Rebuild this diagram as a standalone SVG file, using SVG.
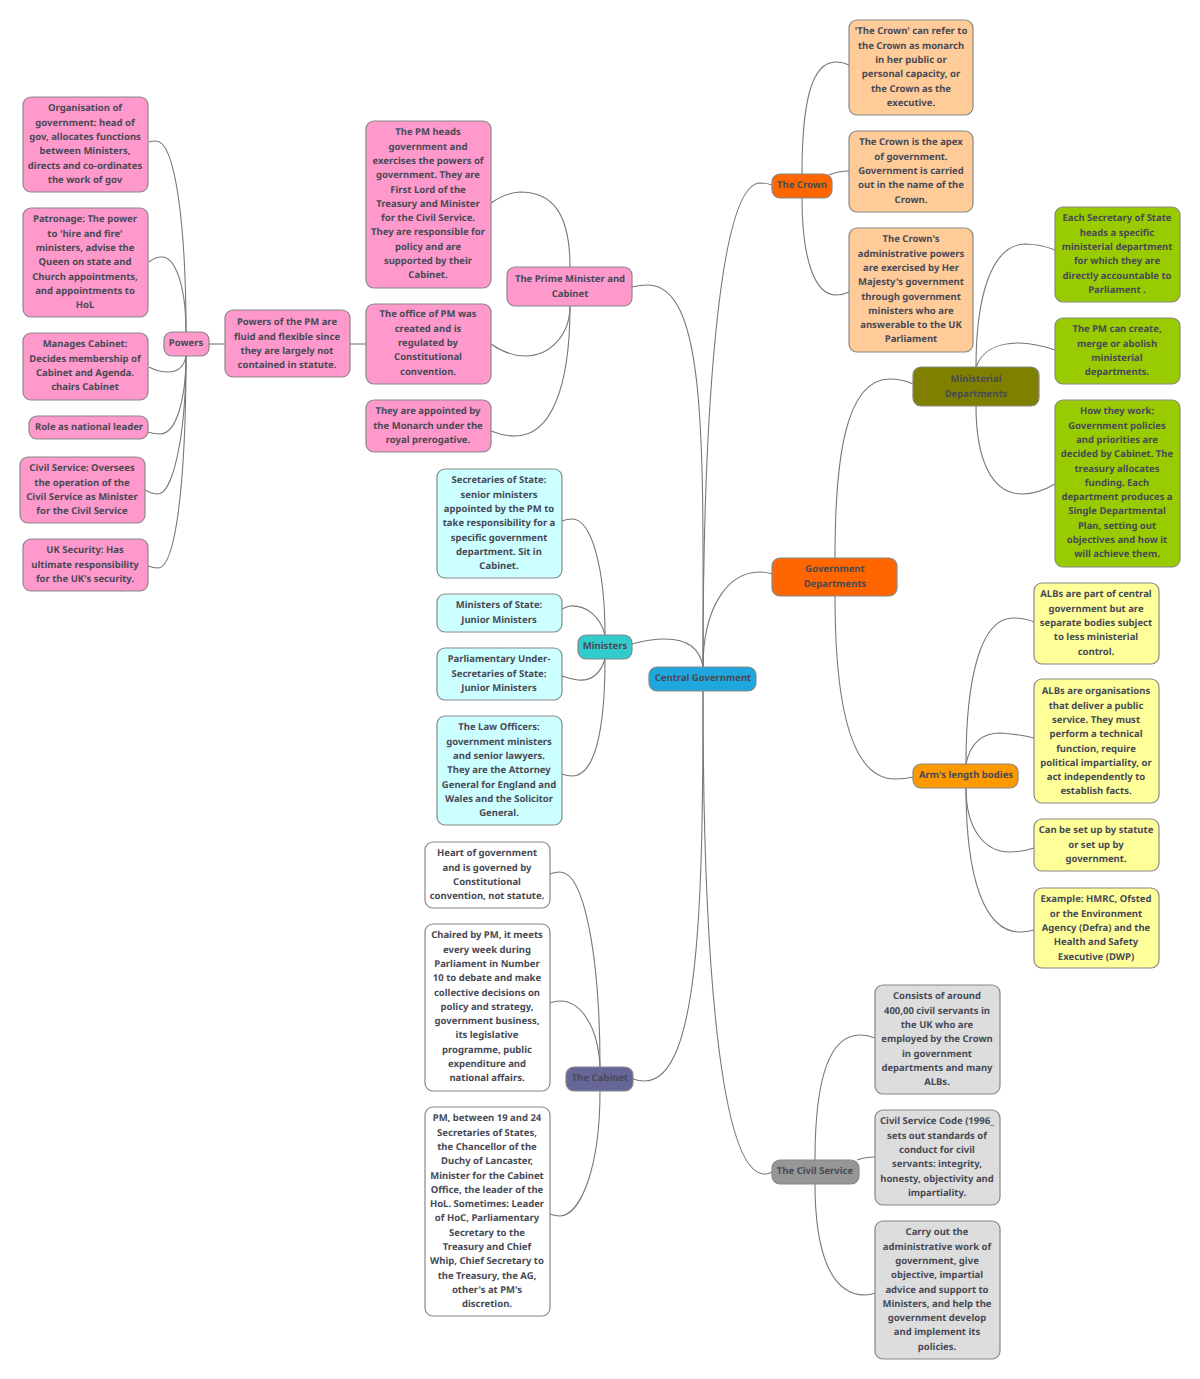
<svg xmlns="http://www.w3.org/2000/svg" width="1200" height="1379" viewBox="0 0 1200 1379">
<style>
rect{stroke:#888;stroke-width:1.2}
text{font-family:"Noto Sans","Open Sans",sans-serif;font-weight:700;font-size:9.5px;fill:#484a56;text-anchor:middle;text-rendering:geometricPrecision;transform:translateY(-.6px)}
#connectors path{fill:none;stroke:#777;stroke-width:1.1}
.pink{fill:#FF99CC}.cyan{fill:#CCFFFF}.peach{fill:#FFCC99}.lime{fill:#99CC00}.yellow{fill:#FFFF99}.gray{fill:#DDDDDD}.white{fill:#FFFFFF}
</style>
<g id="connectors">
<path d="M703 667C703 420 718 184 760 183Q766 183 772 185"/>
<path d="M703 667C700 648 686 639 665 639Q650 639 632 644"/>
<path d="M703 667C703 450 708 286 648 285Q640 285 632 287"/>
<path d="M703 667C703 610 726 572 760 572Q766 572 772 574"/>
<path d="M703 691C703 900 700 1080 645 1081Q638 1081 633 1079"/>
<path d="M703 691C703 960 720 1175 765 1174Q769 1174 772 1172"/>
<path d="M802 174C802 100 812 62 836 62Q843 62 849 65"/>
<path d="M829 175Q838 171 849 171"/>
<path d="M802 198C802 260 815 295 836 295Q843 295 849 292"/>
<path d="M835 558C835 460 845 379 890 379Q902 379 913 384"/>
<path d="M835 596C835 700 850 779 895 779Q905 779 913 777"/>
<path d="M976 367C976 300 990 245 1025 244Q1040 244 1055 250"/>
<path d="M976 367C983 348 1000 343 1020 343Q1038 344 1055 350"/>
<path d="M976 406C976 460 992 494 1022 494Q1038 494 1055 484"/>
<path d="M966 764C966 680 980 618 1013 618Q1025 618 1034 622"/>
<path d="M966 764C970 745 980 733 1000 733Q1018 734 1034 738"/>
<path d="M966 788C966 830 985 852 1010 852Q1022 852 1034 848"/>
<path d="M966 788C966 880 985 932 1020 932Q1027 932 1034 930"/>
<path d="M815 1160C815 1090 825 1035 860 1035Q868 1035 875 1038"/>
<path d="M857 1160Q865 1157 875 1157"/>
<path d="M815 1184C815 1250 830 1295 865 1295Q870 1295 875 1293"/>
<path d="M600 1067C600 960 585 872 560 872Q555 872 550 874"/>
<path d="M600 1067C598 1025 580 1001 560 1001Q555 1001 550 1003"/>
<path d="M600 1091C600 1170 580 1215 560 1216Q555 1216 550 1214"/>
<path d="M605 635C605 570 592 519 572 519Q567 519 562 521"/>
<path d="M605 635C600 615 585 605 570 606Q566 607 562 609"/>
<path d="M605 659C600 675 590 681 578 680Q570 679 562 676"/>
<path d="M605 659C605 730 595 776 572 776Q567 776 562 774"/>
<path d="M570 267C570 210 550 192 520 192Q505 193 491 203"/>
<path d="M570 306C570 335 550 356 525 356Q508 356 491 344"/>
<path d="M570 306C570 390 550 436 515 436Q503 436 491 431"/>
<path d="M350 344H366"/>
<path d="M209 344H225"/>
<path d="M186 332C186 230 176 141 156 141Q152 141 149 142"/>
<path d="M186 332C186 285 175 257 162 257Q155 257 149 262"/>
<path d="M186 356C184 367 178 372 168 372Q158 372 149 367"/>
<path d="M186 356C186 400 176 434 160 434Q154 434 148 432"/>
<path d="M186 356C186 440 172 494 158 494Q152 494 145 490"/>
<path d="M186 356C186 480 176 568 158 568Q153 568 148 566"/>
</g>
<g id="central"><rect x="649" y="667" width="107" height="24" rx="8" fill="#1FA8E0"/><text x="703" y="682">Central Government</text></g>
<g id="crown"><rect x="772" y="174" width="60" height="24" rx="8" fill="#FF6600"/><text x="802" y="189">The Crown</text></g>
<g id="crown1"><rect class="peach" x="849" y="20" width="124" height="95" rx="8"/><text y="35"><tspan x="911">'The Crown' can refer to</tspan><tspan x="911" dy="14.3">the Crown as monarch</tspan><tspan x="911" dy="14.3">in her public or</tspan><tspan x="911" dy="14.3">personal capacity, or</tspan><tspan x="911" dy="14.3">the Crown as the</tspan><tspan x="911" dy="14.3">executive.</tspan></text></g>
<g id="crown2"><rect class="peach" x="849" y="131" width="124" height="81" rx="8"/><text y="146"><tspan x="911">The Crown is the apex</tspan><tspan x="911" dy="14.3">of government.</tspan><tspan x="911" dy="14.3">Government is carried</tspan><tspan x="911" dy="14.3">out in the name of the</tspan><tspan x="911" dy="14.3">Crown.</tspan></text></g>
<g id="crown3"><rect class="peach" x="849" y="228" width="124" height="124" rx="8"/><text y="243"><tspan x="911">The Crown's</tspan><tspan x="911" dy="14.3">administrative powers</tspan><tspan x="911" dy="14.3">are exercised by Her</tspan><tspan x="911" dy="14.3">Majesty's government</tspan><tspan x="911" dy="14.3">through government</tspan><tspan x="911" dy="14.3">ministers who are</tspan><tspan x="911" dy="14.3">answerable to the UK</tspan><tspan x="911" dy="14.3">Parliament</tspan></text></g>
<g id="govdep"><rect x="772" y="558" width="125" height="38" rx="8" fill="#FF6600"/><text y="573"><tspan x="835">Government</tspan><tspan x="835" dy="14.3">Departments</tspan></text></g>
<g id="mindep"><rect x="913" y="367" width="126" height="39" rx="8" fill="#808000"/><text y="383"><tspan x="976">Ministerial</tspan><tspan x="976" dy="14.3">Departments</tspan></text></g>
<g id="min1"><rect class="lime" x="1055" y="207" width="125" height="95" rx="8"/><text y="222"><tspan x="1117">Each Secretary of State</tspan><tspan x="1117" dy="14.3">heads a specific</tspan><tspan x="1117" dy="14.3">ministerial department</tspan><tspan x="1117" dy="14.3">for which they are</tspan><tspan x="1117" dy="14.3">directly accountable to</tspan><tspan x="1117" dy="14.3">Parliament .</tspan></text></g>
<g id="min2"><rect class="lime" x="1055" y="318" width="125" height="66" rx="8"/><text y="333"><tspan x="1117">The PM can create,</tspan><tspan x="1117" dy="14.3">merge or abolish</tspan><tspan x="1117" dy="14.3">ministerial</tspan><tspan x="1117" dy="14.3">departments.</tspan></text></g>
<g id="min3"><rect class="lime" x="1055" y="400" width="125" height="167" rx="8"/><text y="415"><tspan x="1117">How they work:</tspan><tspan x="1117" dy="14.3">Government policies</tspan><tspan x="1117" dy="14.3">and priorities are</tspan><tspan x="1117" dy="14.3">decided by Cabinet. The</tspan><tspan x="1117" dy="14.3">treasury allocates</tspan><tspan x="1117" dy="14.3">funding. Each</tspan><tspan x="1117" dy="14.3">department produces a</tspan><tspan x="1117" dy="14.3">Single Departmental</tspan><tspan x="1117" dy="14.3">Plan, setting out</tspan><tspan x="1117" dy="14.3">objectives and how it</tspan><tspan x="1117" dy="14.3">will achieve them.</tspan></text></g>
<g id="arms"><rect x="913" y="764" width="105" height="24" rx="8" fill="#FF9900"/><text x="966" y="779">Arm's length bodies</text></g>
<g id="alb1"><rect class="yellow" x="1034" y="583" width="125" height="81" rx="8"/><text y="598"><tspan x="1096">ALBs are part of central</tspan><tspan x="1096" dy="14.3">government but are</tspan><tspan x="1096" dy="14.3">separate bodies subject</tspan><tspan x="1096" dy="14.3">to less ministerial</tspan><tspan x="1096" dy="14.3">control.</tspan></text></g>
<g id="alb2"><rect class="yellow" x="1034" y="679" width="125" height="124" rx="8"/><text y="695"><tspan x="1096">ALBs are organisations</tspan><tspan x="1096" dy="14.3">that deliver a public</tspan><tspan x="1096" dy="14.3">service. They must</tspan><tspan x="1096" dy="14.3">perform a technical</tspan><tspan x="1096" dy="14.3">function, require</tspan><tspan x="1096" dy="14.3">political impartiality, or</tspan><tspan x="1096" dy="14.3">act independently to</tspan><tspan x="1096" dy="14.3">establish facts.</tspan></text></g>
<g id="alb3"><rect class="yellow" x="1034" y="819" width="125" height="52" rx="8"/><text y="834"><tspan x="1096">Can be set up by statute</tspan><tspan x="1096" dy="14.3">or set up by</tspan><tspan x="1096" dy="14.3">government.</tspan></text></g>
<g id="alb4"><rect class="yellow" x="1034" y="888" width="125" height="80" rx="8"/><text y="903"><tspan x="1096">Example: HMRC, Ofsted</tspan><tspan x="1096" dy="14.3">or the Environment</tspan><tspan x="1096" dy="14.3">Agency (Defra) and the</tspan><tspan x="1096" dy="14.3">Health and Safety</tspan><tspan x="1096" dy="14.3">Executive (DWP)</tspan></text></g>
<g id="civil"><rect x="772" y="1160" width="87" height="24" rx="8" fill="#969696"/><text x="815" y="1175">The Civil Service</text></g>
<g id="civ1"><rect class="gray" x="875" y="985" width="125" height="109" rx="8"/><text y="1000"><tspan x="937">Consists of around</tspan><tspan x="937" dy="14.3">400,00 civil servants in</tspan><tspan x="937" dy="14.3">the UK who are</tspan><tspan x="937" dy="14.3">employed by the Crown</tspan><tspan x="937" dy="14.3">in government</tspan><tspan x="937" dy="14.3">departments and many</tspan><tspan x="937" dy="14.3">ALBs.</tspan></text></g>
<g id="civ2"><rect class="gray" x="875" y="1110" width="125" height="95" rx="8"/><text y="1125"><tspan x="937">Civil Service Code (1996_</tspan><tspan x="937" dy="14.3">sets out standards of</tspan><tspan x="937" dy="14.3">conduct for civil</tspan><tspan x="937" dy="14.3">servants: integrity,</tspan><tspan x="937" dy="14.3">honesty, objectivity and</tspan><tspan x="937" dy="14.3">impartiality.</tspan></text></g>
<g id="civ3"><rect class="gray" x="875" y="1221" width="125" height="138" rx="8"/><text y="1236"><tspan x="937">Carry out the</tspan><tspan x="937" dy="14.3">administrative work of</tspan><tspan x="937" dy="14.3">government, give</tspan><tspan x="937" dy="14.3">objective, impartial</tspan><tspan x="937" dy="14.3">advice and support to</tspan><tspan x="937" dy="14.3">Ministers, and help the</tspan><tspan x="937" dy="14.3">government develop</tspan><tspan x="937" dy="14.3">and implement its</tspan><tspan x="937" dy="14.3">policies.</tspan></text></g>
<g id="cabinet"><rect x="566" y="1067" width="67" height="24" rx="8" fill="#666699"/><text x="600" y="1082">The Cabinet</text></g>
<g id="cab1"><rect class="white" x="425" y="842" width="125" height="66" rx="8"/><text y="857"><tspan x="487">Heart of government</tspan><tspan x="487" dy="14.3">and is governed by</tspan><tspan x="487" dy="14.3">Constitutional</tspan><tspan x="487" dy="14.3">convention, not statute.</tspan></text></g>
<g id="cab2"><rect class="white" x="425" y="924" width="125" height="167" rx="8"/><text y="939"><tspan x="487">Chaired by PM, it meets</tspan><tspan x="487" dy="14.3">every week during</tspan><tspan x="487" dy="14.3">Parliament in Number</tspan><tspan x="487" dy="14.3">10 to debate and make</tspan><tspan x="487" dy="14.3">collective decisions on</tspan><tspan x="487" dy="14.3">policy and strategy,</tspan><tspan x="487" dy="14.3">government business,</tspan><tspan x="487" dy="14.3">its legislative</tspan><tspan x="487" dy="14.3">programme, public</tspan><tspan x="487" dy="14.3">expenditure and</tspan><tspan x="487" dy="14.3">national affairs.</tspan></text></g>
<g id="cab3"><rect class="white" x="425" y="1107" width="125" height="209" rx="8"/><text y="1122"><tspan x="487">PM, between 19 and 24</tspan><tspan x="487" dy="14.3">Secretaries of States,</tspan><tspan x="487" dy="14.3">the Chancellor of the</tspan><tspan x="487" dy="14.3">Duchy of Lancaster,</tspan><tspan x="487" dy="14.3">Minister for the Cabinet</tspan><tspan x="487" dy="14.3">Office, the leader of the</tspan><tspan x="487" dy="14.3">HoL. Sometimes: Leader</tspan><tspan x="487" dy="14.3">of HoC, Parliamentary</tspan><tspan x="487" dy="14.3">Secretary to the</tspan><tspan x="487" dy="14.3">Treasury and Chief</tspan><tspan x="487" dy="14.3">Whip, Chief Secretary to</tspan><tspan x="487" dy="14.3">the Treasury, the AG,</tspan><tspan x="487" dy="14.3">other's at PM's</tspan><tspan x="487" dy="14.3">discretion.</tspan></text></g>
<g id="ministers"><rect x="578" y="635" width="54" height="24" rx="8" fill="#33CCCC"/><text x="605" y="650">Ministers</text></g>
<g id="m1"><rect class="cyan" x="437" y="469" width="125" height="109" rx="8"/><text y="484"><tspan x="499">Secretaries of State:</tspan><tspan x="499" dy="14.3">senior ministers</tspan><tspan x="499" dy="14.3">appointed by the PM to</tspan><tspan x="499" dy="14.3">take responsibility for a</tspan><tspan x="499" dy="14.3">specific government</tspan><tspan x="499" dy="14.3">department. Sit in</tspan><tspan x="499" dy="14.3">Cabinet.</tspan></text></g>
<g id="m2"><rect class="cyan" x="437" y="594" width="125" height="38" rx="8"/><text y="609"><tspan x="499">Ministers of State:</tspan><tspan x="499" dy="14.3">Junior Ministers</tspan></text></g>
<g id="m3"><rect class="cyan" x="437" y="648" width="125" height="52" rx="8"/><text y="663"><tspan x="499">Parliamentary Under-</tspan><tspan x="499" dy="14.3">Secretaries of State:</tspan><tspan x="499" dy="14.3">Junior Ministers</tspan></text></g>
<g id="m4"><rect class="cyan" x="437" y="716" width="125" height="109" rx="8"/><text y="731"><tspan x="499">The Law Officers:</tspan><tspan x="499" dy="14.3">government ministers</tspan><tspan x="499" dy="14.3">and senior lawyers.</tspan><tspan x="499" dy="14.3">They are the Attorney</tspan><tspan x="499" dy="14.3">General for England and</tspan><tspan x="499" dy="14.3">Wales and the Solicitor</tspan><tspan x="499" dy="14.3">General.</tspan></text></g>
<g id="pmcab"><rect class="pink" x="507" y="267" width="125" height="39" rx="8"/><text y="283"><tspan x="570">The Prime Minister and</tspan><tspan x="570" dy="14.3">Cabinet</tspan></text></g>
<g id="pm1"><rect class="pink" x="366" y="121" width="125" height="167" rx="8"/><text y="136"><tspan x="428">The PM heads</tspan><tspan x="428" dy="14.3">government and</tspan><tspan x="428" dy="14.3">exercises the powers of</tspan><tspan x="428" dy="14.3">government. They are</tspan><tspan x="428" dy="14.3">First Lord of the</tspan><tspan x="428" dy="14.3">Treasury and Minister</tspan><tspan x="428" dy="14.3">for the Civil Service.</tspan><tspan x="428" dy="14.3">They are responsible for</tspan><tspan x="428" dy="14.3">policy and are</tspan><tspan x="428" dy="14.3">supported by their</tspan><tspan x="428" dy="14.3">Cabinet.</tspan></text></g>
<g id="pm2"><rect class="pink" x="366" y="304" width="125" height="80" rx="8"/><text y="318"><tspan x="428">The office of PM was</tspan><tspan x="428" dy="14.3">created and is</tspan><tspan x="428" dy="14.3">regulated by</tspan><tspan x="428" dy="14.3">Constitutional</tspan><tspan x="428" dy="14.3">convention.</tspan></text></g>
<g id="pm3"><rect class="pink" x="366" y="400" width="125" height="52" rx="8"/><text y="415"><tspan x="428">They are appointed by</tspan><tspan x="428" dy="14.3">the Monarch under the</tspan><tspan x="428" dy="14.3">royal prerogative.</tspan></text></g>
<g id="fluid"><rect class="pink" x="225" y="310" width="125" height="67" rx="8"/><text y="326"><tspan x="287">Powers of the PM are</tspan><tspan x="287" dy="14.3">fluid and flexible since</tspan><tspan x="287" dy="14.3">they are largely not</tspan><tspan x="287" dy="14.3">contained in statute.</tspan></text></g>
<g id="powers"><rect class="pink" x="164" y="332" width="45" height="24" rx="8"/><text x="186" y="347">Powers</text></g>
<g id="p1"><rect class="pink" x="23" y="97" width="125" height="95" rx="8"/><text y="112"><tspan x="85">Organisation of</tspan><tspan x="85" dy="14.3">government: head of</tspan><tspan x="85" dy="14.3">gov, allocates functions</tspan><tspan x="85" dy="14.3">between Ministers,</tspan><tspan x="85" dy="14.3">directs and co-ordinates</tspan><tspan x="85" dy="14.3">the work of gov</tspan></text></g>
<g id="p2"><rect class="pink" x="23" y="208" width="125" height="109" rx="8"/><text y="223"><tspan x="85">Patronage: The power</tspan><tspan x="85" dy="14.3">to 'hire and fire'</tspan><tspan x="85" dy="14.3">ministers, advise the</tspan><tspan x="85" dy="14.3">Queen on state and</tspan><tspan x="85" dy="14.3">Church appointments,</tspan><tspan x="85" dy="14.3">and appointments to</tspan><tspan x="85" dy="14.3">HoL</tspan></text></g>
<g id="p3"><rect class="pink" x="23" y="333" width="125" height="67" rx="8"/><text y="348"><tspan x="85">Manages Cabinet:</tspan><tspan x="85" dy="14.3">Decides membership of</tspan><tspan x="85" dy="14.3">Cabinet and Agenda.</tspan><tspan x="85" dy="14.3">chairs Cabinet</tspan></text></g>
<g id="p4"><rect class="pink" x="29" y="416" width="119" height="23" rx="8"/><text x="89" y="431">Role as national leader</text></g>
<g id="p5"><rect class="pink" x="20" y="457" width="125" height="66" rx="8"/><text y="472"><tspan x="82">Civil Service: Oversees</tspan><tspan x="82" dy="14.3">the operation of the</tspan><tspan x="82" dy="14.3">Civil Service as Minister</tspan><tspan x="82" dy="14.3">for the Civil Service</tspan></text></g>
<g id="p6"><rect class="pink" x="23" y="539" width="125" height="52" rx="8"/><text y="554"><tspan x="85">UK Security: Has</tspan><tspan x="85" dy="14.3">ultimate responsibility</tspan><tspan x="85" dy="14.3">for the UK's security.</tspan></text></g>
</svg>
